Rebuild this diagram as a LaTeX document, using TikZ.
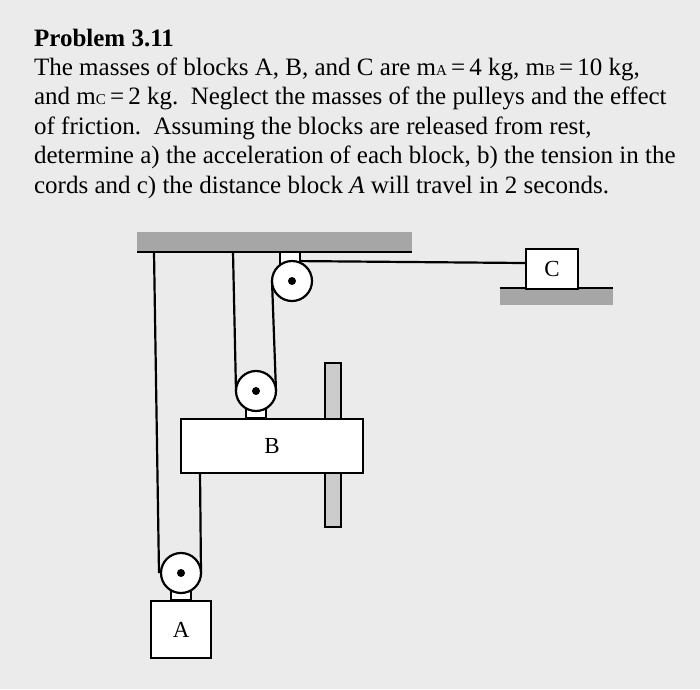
\documentclass[tikz,border=0pt]{standalone}
\usepackage{fontspec}
\setmainfont{Liberation Serif}
\begin{document}
\begin{tikzpicture}[x=1pt,y=-1pt,line width=2.2pt,
  txt/.style={anchor=base west,inner sep=0pt,font=\fontsize{25}{30}\selectfont},
  pul/.style={circle,draw,fill=white,minimum size=40pt,inner sep=0pt,line width=2.2pt},
  blk/.style={draw,fill=white,line width=2.2pt},
  lbl/.style={font=\fontsize{23}{26}\selectfont}]
\fill[black!8] (0,0) rectangle (700,689);
\useasboundingbox (0,0) rectangle (700,689);
\newcommand\sbs[1]{{\fontsize{15}{16}\selectfont #1}}
\node[txt,font=\bfseries\fontsize{25}{30}\selectfont] (t0) at (33,46) {Problem 3.11};
\node[txt] (t1) at (33,75) {The masses of blocks A, B, and C are m\sbs{A}\,=\,4 kg, m\sbs{B}\,=\,10 kg,};
\node[txt] (t2) at (33,104) {and m\sbs{C}\,=\,2 kg.\ \ Neglect the masses of the pulleys and the effect};
\node[txt] (t3) at (33,134) {of friction.\ \ Assuming the blocks are released from rest,};
\node[txt] (t4) at (33,163) {determine a) the acceleration of each block, b) the tension in the};
\node[txt] (t5) at (33,193) {cords and c) the distance block \textit{A} will travel in 2 seconds.};
% ceiling and ground
\fill[black!35] (137,232) rectangle (412,251);
\draw (137,252) -- (412,252);
\fill[black!35] (500,288) rectangle (613,305);
\draw (500,288) -- (613,288);
% guide rod
\draw[fill=black!20,line width=1.8pt] (325,363) rectangle (341,527);
% ropes
\draw (154,252) -- (159,573);
\draw (200,472) -- (201,573);
\draw (233,252) -- (236,391);
\draw (276,391) -- (272,281);
\draw (292,261) -- (525,263);
% stubs
\draw[blk] (280,252) rectangle (300,268);
\draw[blk] (246,405) rectangle (266,418);
\draw[blk] (171,588) rectangle (191,600);
% block B
\node[blk,minimum width=182pt,minimum height=54pt,anchor=north west,lbl] (B) at (180,418) {B};
% pulleys
\node[pul] (P1) at (292,281) {};
\node[pul] (P2) at (256,391) {};
\node[pul] (P3) at (181,573) {};
\foreach \p in {P1,P2,P3} \fill (\p) circle (4pt);
% blocks
\node[blk,minimum width=60pt,minimum height=57pt,anchor=north west,lbl] (A) at (150,600) {A};
\node[blk,minimum width=52pt,minimum height=40pt,anchor=north west,lbl] (C) at (525,248) {C};
\end{tikzpicture}
\end{document}
